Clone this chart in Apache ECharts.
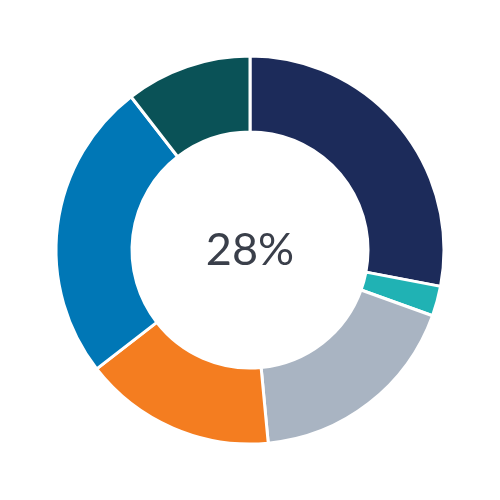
<!DOCTYPE html>
<html>
<head>
<meta charset="utf-8">
<script src="https://cdn.jsdelivr.net/npm/echarts@6/dist/echarts.min.js"></script>
<style>
  html, body { margin: 0; padding: 0; background: #fff; }
  #chart { width: 500px; height: 500px; }
</style>
</head>
<body>
<div id="chart"></div>
<script>
  // slice values, clockwise from 12 o'clock
  const names = ['A', 'B', 'C', 'D', 'E', 'F'];
  const values = [28, 2.5, 18, 16, 25, 10.5];
  const colors = ['#1c2b5a', '#20b2b4', '#a9b4c2', '#f47d20', '#0077b6', '#0a5257'];
  const centerLabel = '28%';

  let chart = echarts.init(document.getElementById('chart'));
  let data = names.map((n, i) => ({
    name: n,
    value: values[i],
    itemStyle: { color: colors[i] }
  }));

  let option = {
    animation: false,
    title: {
      text: centerLabel,
      left: 'center',
      top: 'middle',
      padding: [0, 0, 6, 0],
      textStyle: {
        fontFamily: 'Lato',
        fontSize: 45,
        fontWeight: 'normal',
        color: '#3a3f4a'
      }
    },
    series: [
      {
        type: 'pie',
        center: ['50%', '50%'],
        radius: [118, 194],
        startAngle: 90,
        clockwise: true,
        label: { show: false },
        labelLine: { show: false },
        itemStyle: {
          borderColor: '#fff',
          borderWidth: 3
        },
        data: data
      }
    ]
  };

  chart.setOption(option);
</script>
</body>
</html>
